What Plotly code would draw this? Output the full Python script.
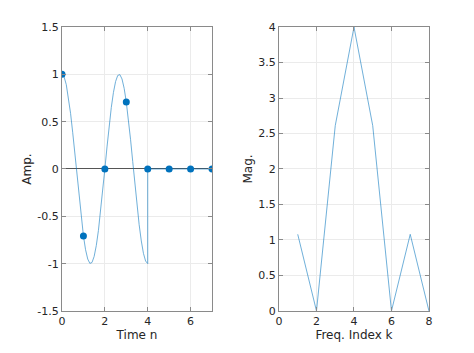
import plotly.graph_objects as go

# Left panel: samples (stems) and continuous signal
n_vals = [0, 1, 2, 3, 4, 5, 6, 7]
x_vals = [1.0, -0.707, 0.0, 0.707, 0.0, 0.0, 0.0, 0.0]

t_vals = [0.0, 0.1, 0.2, 0.3, 0.4, 0.5, 0.6, 0.7, 0.8, 0.9, 1.0,
          1.1, 1.2, 1.3, 1.4, 1.5, 1.6, 1.7, 1.8, 1.9, 2.0,
          2.1, 2.2, 2.3, 2.4, 2.5, 2.6, 2.7, 2.8, 2.9, 3.0,
          3.1, 3.2, 3.3, 3.4, 3.5, 3.6, 3.7, 3.8, 3.9, 4.0, 4.0, 7.0]
c_vals = [1.0, 0.972, 0.891, 0.760, 0.588, 0.383, 0.156, -0.078, -0.309, -0.522, -0.707,
          -0.853, -0.951, -0.997, -0.988, -0.924, -0.809, -0.649, -0.454, -0.233, 0.0,
          0.233, 0.454, 0.649, 0.809, 0.924, 0.988, 0.997, 0.951, 0.853, 0.707,
          0.522, 0.309, 0.078, -0.156, -0.383, -0.588, -0.760, -0.891, -0.972, -1.0, 0.0, 0.0]

# Right panel: magnitude spectrum
k_vals = [1, 2, 3, 4, 5, 6, 7, 8]
mag_vals = [1.08, 0.0, 2.61, 4.0, 2.61, 0.0, 1.08, 0.0]

left_yticks = [-1.5, -1, -0.5, 0, 0.5, 1, 1.5]
left_ytext = ["-1.5", "-1", "-0.5", "0", "0.5", "1", "1.5"]
left_xticks = [0, 2, 4, 6]
right_xticks = [0, 2, 4, 6, 8]
right_yticks = [0, 0.5, 1, 1.5, 2, 2.5, 3, 3.5, 4]
right_ytext = ["0", "0.5", "1", "1.5", "2", "2.5", "3", "3.5", "4"]

blue = "#0072BD"
axcol = "#262626"
font = "DejaVu Sans"

fig = go.Figure()
fig.add_trace(go.Scatter(x=t_vals, y=c_vals, mode="lines",
                         line=dict(color=blue, width=0.8), opacity=0.7,
                         xaxis="x", yaxis="y", showlegend=False))
fig.add_trace(go.Scatter(x=n_vals, y=x_vals, mode="markers",
                         marker=dict(color=blue, size=7),
                         xaxis="x", yaxis="y", showlegend=False))
fig.add_trace(go.Scatter(x=k_vals, y=mag_vals, mode="lines",
                         line=dict(color=blue, width=0.8), opacity=0.7,
                         xaxis="x2", yaxis="y2", showlegend=False))

common = dict(showline=True, linecolor="#8a8a8a", linewidth=1, mirror="ticks",
              ticks="inside", ticklen=4, tickcolor="#8a8a8a", automargin=False,
              showgrid=True, gridcolor="#ebebeb", gridwidth=1,
              tickfont=dict(family=font, size=11, color=axcol),
              title_font=dict(family=font, size=12, color=axcol))

fig.update_layout(
    width=474, height=353,
    margin=dict(l=0, r=0, t=0, b=0),
    paper_bgcolor="white", plot_bgcolor="white",
    xaxis=dict(domain=[0.1308, 0.4473], range=[0, 7], tickvals=left_xticks,
               zeroline=False, title=dict(text="Time n", standoff=2), anchor="y", **common),
    yaxis=dict(domain=[0.119, 0.9235], range=[-1.5, 1.5], tickvals=left_yticks,
               ticktext=left_ytext, zeroline=True, zerolinecolor="#555555", zerolinewidth=1,
               title=dict(text="Amp.", standoff=3), anchor="x", **common),
    xaxis2=dict(domain=[0.5886, 0.905], range=[0, 8], tickvals=right_xticks,
                zeroline=False, title=dict(text="Freq. Index k", standoff=2), anchor="y2", **common),
    yaxis2=dict(domain=[0.119, 0.9235], range=[0, 4], tickvals=right_yticks,
                ticktext=right_ytext, zeroline=False,
                title=dict(text="Mag.", standoff=3), anchor="x2", **common),
)

fig.write_html("out.html")
